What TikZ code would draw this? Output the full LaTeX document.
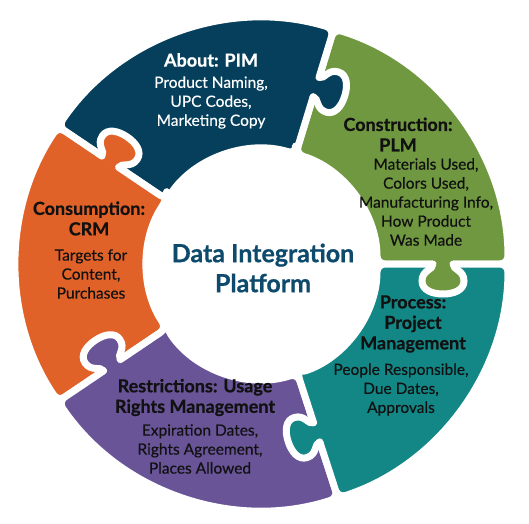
\documentclass[tikz,border=0pt]{standalone}
\usepackage{fontspec}
\setmainfont{Lato}
\newfontfamily\bodyfont[FakeBold=0.35]{Lato}
\newfontfamily\heavyfont[UprightFont={* Bold},FakeBold=0.7]{Lato}
\definecolor{cnavy}{HTML}{053F5C}
\definecolor{cgreen}{HTML}{709840}
\definecolor{cteal}{HTML}{128786}
\definecolor{cpurple}{HTML}{695498}
\definecolor{corange}{HTML}{E16229}
\definecolor{ctitle}{HTML}{0E4A6B}
\definecolor{ctext}{HTML}{111111}
\newcommand\knobat[3]{%
\begin{scope}[rotate=#1]
\fill[#2] (#3-10,0) -- (#3-10,4) -- (#3+10,4) -- (#3+10,0)
  .. controls (#3+10,-6) and (#3+21,-6) .. (#3+21,-17)
  .. controls (#3+21,-26) and (#3+11,-30) .. (#3,-30)
  .. controls (#3-11,-30) and (#3-21,-26) .. (#3-21,-17)
  .. controls (#3-21,-6) and (#3-10,-6) .. (#3-10,0) -- cycle;
\draw[white, line width=7pt, line cap=round] (#3-10,0)
  .. controls (#3-10,-6) and (#3-21,-6) .. (#3-21,-17)
  .. controls (#3-21,-26) and (#3-11,-30) .. (#3,-30)
  .. controls (#3+11,-30) and (#3+21,-26) .. (#3+21,-17)
  .. controls (#3+21,-6) and (#3+10,-6) .. (#3+10,0);
\end{scope}}
\tikzset{
  piece/.style={draw=white, line width=7pt, line join=round, rounded corners=8pt},
  headw/.style={font=\fontsize{18}{20.5}\selectfont\heavyfont, align=center, text=white},
  bodyw/.style={font=\fontsize{15.5}{19}\selectfont\bodyfont, align=center, text=white},
  headb/.style={font=\fontsize{18}{20.5}\selectfont\heavyfont, align=center, text=ctext},
  bodyb/.style={font=\fontsize{15.5}{19}\selectfont\bodyfont, align=center, text=ctext},
}
\begin{document}
\begin{tikzpicture}[x=1pt,y=1pt]
\useasboundingbox (-262,-259) rectangle (267,264);
% pieces
\path[piece, fill=cgreen] (0:115) -- (0:246) arc[start angle=0, end angle=73, radius=246pt] -- (73:115) arc[start angle=73, end angle=0, radius=115pt] -- cycle;
\path[piece, fill=cnavy] (73:115) -- (73:246) arc[start angle=73, end angle=146, radius=246pt] -- (146:115) arc[start angle=146, end angle=73, radius=115pt] -- cycle;
\path[piece, fill=corange] (146:115) -- (146:246) arc[start angle=146, end angle=214, radius=246pt] -- (214:115) arc[start angle=214, end angle=146, radius=115pt] -- cycle;
\path[piece, fill=cpurple] (214:115) -- (214:246) arc[start angle=214, end angle=288, radius=246pt] -- (288:115) arc[start angle=288, end angle=214, radius=115pt] -- cycle;
\path[piece, fill=cteal] (288:115) -- (288:246) arc[start angle=288, end angle=360, radius=246pt] -- (360:115) arc[start angle=360, end angle=288, radius=115pt] -- cycle;
% knobs
\knobat{0}{cgreen}{181}
\knobat{73}{cnavy}{185}
\knobat{146}{corange}{183}
\knobat{214}{cpurple}{181}
\knobat{288}{cteal}{177}
% texts
\node[headw] (pimh) at (-51,204) {About: PIM};
\node[bodyw] (pimb) at (-51,161.5) {Product Naming,\\UPC Codes,\\Marketing Copy};
\node[headb] (plmh) at (136,129.5) {Construction:\\PLM};
\node[bodyb] (plmb) at (164,62) {Materials Used,\\Colors Used,\\Manufacturing Info,\\How Product\\Was Made};
\node[headb] (crmh) at (-173,45.5) {Consumption:\\CRM};
\node[bodyb] (crmb) at (-171,-10) {Targets for\\Content,\\Purchases};
\node[headb] (pmh) at (151,-60) {Process:\\Project\\Management};
\node[bodyb] (pmb) at (139,-125.5) {People Responsible,\\Due Dates,\\Approvals};
\node[headb] (rmh) at (-67,-133.5) {Restrictions: Usage\\Rights Management};
\node[bodyb] (rmb) at (-62,-185) {Expiration Dates,\\Rights Agreement,\\Places Allowed};
\node[font=\fontsize{25}{30}\selectfont\heavyfont, align=center, text=ctitle] (title) at (1,-4) {Data Integration\\Platform};
\end{tikzpicture}
\end{document}
